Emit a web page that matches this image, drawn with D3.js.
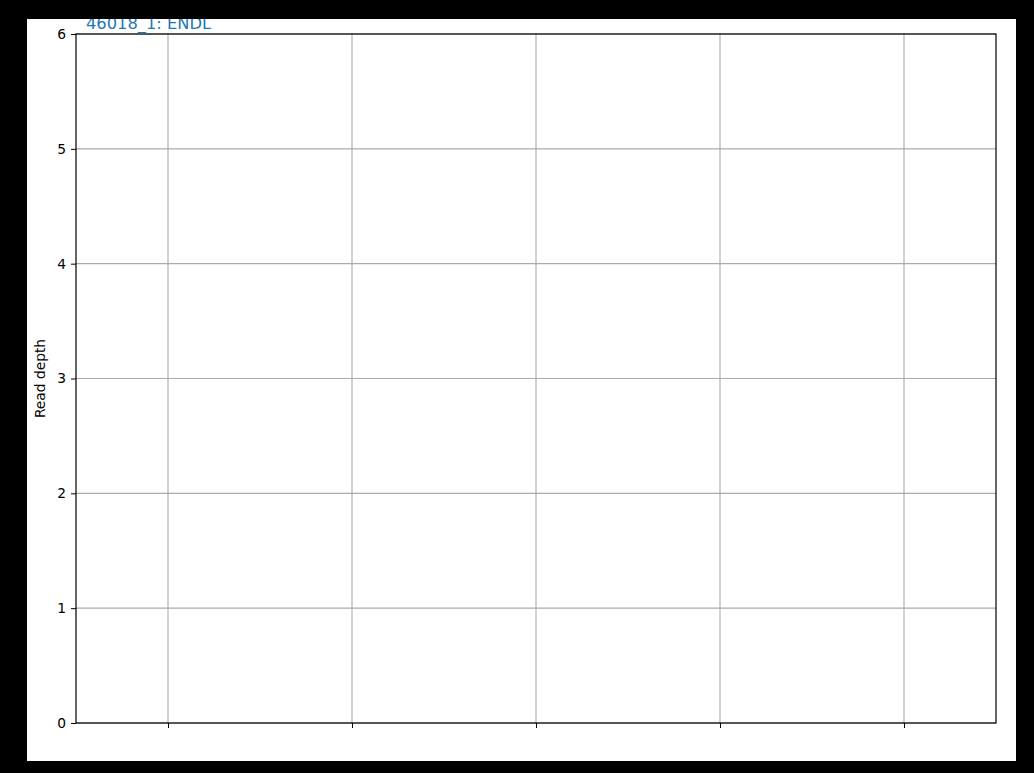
<!DOCTYPE html>
<html>
<head>
<meta charset="utf-8">
<script src="https://cdn.jsdelivr.net/npm/d3@7"></script>
<style>
  html, body { margin: 0; padding: 0; background: #000; }
  svg { display: block; }
</style>
</head>
<body>
<svg id="chart" width="1034" height="773"></svg>
<script>
// chart values
const title = "46018_1: ENDL";
const xPositions = [0, 1, 2, 3, 4];
const xTickLabels = ["", "", "", "", ""];
const readDepth = []; // no reads drawn in this panel
const yTicks = [0, 1, 2, 3, 4, 5, 6];

const svg = d3.select("#chart");

// white figure area
svg.append("defs").append("clipPath").attr("id", "fig-clip")
  .append("rect").attr("x", 27).attr("y", 19).attr("width", 989).attr("height", 742);

const fig = svg.append("g").attr("clip-path", "url(#fig-clip)");
fig.append("rect")
  .attr("x", 27).attr("y", 19).attr("width", 989).attr("height", 742)
  .attr("fill", "#fff");

const plotLeft = 76, plotRight = 996, plotTop = 34, plotBottom = 723;

const x = d3.scaleLinear().domain([-0.5, 4.5]).range([plotLeft, plotRight]);
const y = d3.scaleLinear().domain([0, 6]).range([plotBottom, plotTop]);

// grid
fig.append("g")
  .selectAll("line")
  .data(xPositions)
  .join("line")
  .attr("x1", d => x(d)).attr("x2", d => x(d))
  .attr("y1", plotTop).attr("y2", plotBottom)
  .attr("stroke", "#aaaaaa").attr("stroke-width", 1.1);

fig.append("g")
  .selectAll("line")
  .data(yTicks)
  .join("line")
  .attr("x1", plotLeft).attr("x2", plotRight)
  .attr("y1", d => y(d)).attr("y2", d => y(d))
  .attr("stroke", "#aaaaaa").attr("stroke-width", 1.1);

// bars (empty here)
fig.append("g")
  .selectAll("rect")
  .data(readDepth)
  .join("rect")
  .attr("x", (d, i) => x(i) - 70)
  .attr("width", 140)
  .attr("y", d => y(d))
  .attr("height", d => plotBottom - y(d))
  .attr("fill", "#1f77b4");

// axes
const xAxis = d3.axisBottom(x)
  .tickValues(xPositions)
  .tickFormat((d, i) => xTickLabels[i])
  .tickSize(5).tickSizeOuter(0);
const yAxis = d3.axisLeft(y)
  .tickValues(yTicks)
  .tickFormat(d3.format("d"))
  .tickSize(5).tickSizeOuter(0);

const gx = fig.append("g").attr("transform", `translate(0,${plotBottom})`).call(xAxis);
const gy = fig.append("g").attr("transform", `translate(${plotLeft},0)`).call(yAxis);

[gx, gy].forEach(g => {
  g.select(".domain").remove();
  g.selectAll(".tick line").attr("stroke", "#000").attr("stroke-width", 1);
  g.selectAll(".tick text")
    .attr("font-family", "DejaVu Sans, sans-serif")
    .attr("font-size", 13.8)
    .attr("fill", "#000");
});
gy.selectAll(".tick text").attr("x", -10);

// frame
fig.append("rect")
  .attr("x", plotLeft).attr("y", plotTop)
  .attr("width", plotRight - plotLeft).attr("height", plotBottom - plotTop)
  .attr("fill", "none").attr("stroke", "#000").attr("stroke-width", 1.2);

// y label
fig.append("text")
  .attr("transform", `translate(45,${(plotTop + plotBottom) / 2}) rotate(-90)`)
  .attr("text-anchor", "middle")
  .attr("font-family", "DejaVu Sans, sans-serif")
  .attr("font-size", 13.8)
  .attr("fill", "#000")
  .text("Read depth");

// title
fig.append("text")
  .attr("x", 86).attr("y", 29)
  .attr("font-family", "DejaVu Sans, sans-serif")
  .attr("font-size", 16.3)
  .attr("fill", "#1f77b4")
  .text(title);
</script>
</body>
</html>
